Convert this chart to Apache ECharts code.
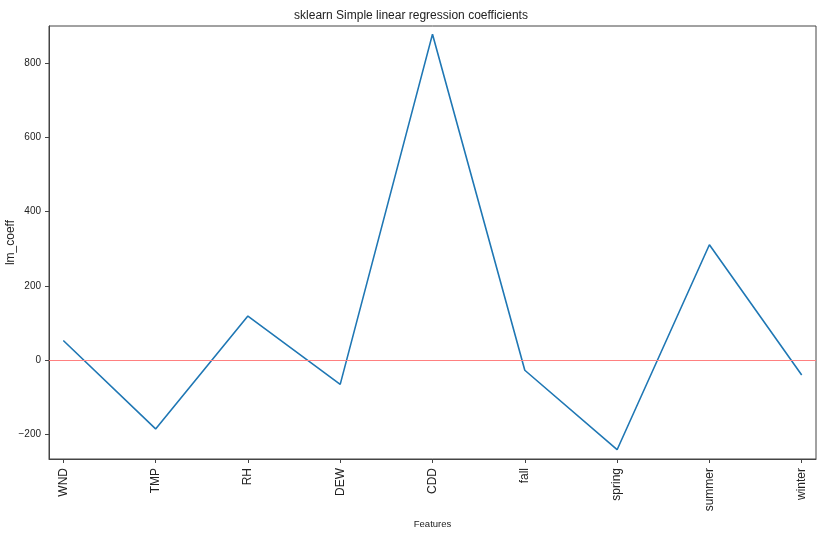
<!DOCTYPE html>
<html>
<head>
<meta charset="utf-8">
<script src="https://cdn.jsdelivr.net/npm/echarts@6/dist/echarts.min.js"></script>
<style>
html,body{margin:0;padding:0;background:#fff;}
#chart{width:822px;height:537px;}
</style>
</head>
<body>
<div id="chart"></div>
<script>
const categories = ['WND','TMP','RH','DEW','CDD','fall','spring','summer','winter'];
const coefficients = [53, -185, 119, -65, 878, -27, -241, 311, -40];
const yTicks = [-200, 0, 200, 400, 600, 800];
const referenceLine = 0;

const font = "'Liberation Sans', Arial, sans-serif";
const idx = categories.map((c, i) => i);

const chart = echarts.init(document.getElementById('chart'));
chart.setOption({
  animation: false,
  backgroundColor: '#ffffff',
  title: {
    text: 'sklearn Simple linear regression coefficients',
    left: 'center',
    top: 5,
    textStyle: { fontFamily: font, fontSize: 12, fontWeight: 'normal', color: '#222' }
  },
  grid: {
    left: 49, right: 6, top: 26, bottom: 78,
    containLabel: false,
    outerBoundsMode: 'none',
    show: true, borderColor: '#444', borderWidth: 1, backgroundColor: 'transparent'
  },
  xAxis: {
    type: 'value',
    min: -0.155,
    max: categories.length - 1 + 0.155,
    name: 'Features',
    nameLocation: 'middle',
    nameGap: 60,
    nameMoveOverlap: false,
    nameTextStyle: { fontFamily: font, fontSize: 9.5, color: '#222' },
    axisLine: { show: true, onZero: false, lineStyle: { color: '#444', width: 1 } },
    axisTick: { show: true, length: 4, customValues: idx, lineStyle: { color: '#444' } },
    axisLabel: {
      customValues: idx,
      rotate: 90,
      margin: 9,
      fontFamily: font,
      fontSize: 12,
      color: '#222',
      formatter: v => categories[Math.round(v)]
    },
    splitLine: { show: false }
  },
  yAxis: {
    type: 'value',
    min: -266,
    max: 900,
    name: 'lm_coeff',
    nameLocation: 'middle',
    nameGap: 32,
    nameMoveOverlap: false,
    nameTextStyle: { fontFamily: font, fontSize: 12, color: '#222' },
    axisLine: { show: true, onZero: false, lineStyle: { color: '#444', width: 1 } },
    axisTick: { show: true, length: 4, customValues: yTicks, lineStyle: { color: '#444' } },
    axisLabel: {
      customValues: yTicks,
      margin: 8,
      fontFamily: font,
      fontSize: 10,
      color: '#222',
      formatter: v => (v < 0 ? '\u2212' + Math.abs(v) : String(v))
    },
    splitLine: { show: false }
  },
  series: [{
    type: 'line',
    data: coefficients.map((v, i) => [i, v]),
    showSymbol: false,
    symbol: 'none',
    lineStyle: { color: '#1f77b4', width: 1.6 },
    itemStyle: { color: '#1f77b4' },
    markLine: {
      silent: true,
      symbol: ['none', 'none'],
      label: { show: false },
      lineStyle: { color: '#ff8080', type: 'solid', width: 1.2 },
      data: [{ yAxis: referenceLine }]
    },
    z: 3
  }]
});
</script>
</body>
</html>
